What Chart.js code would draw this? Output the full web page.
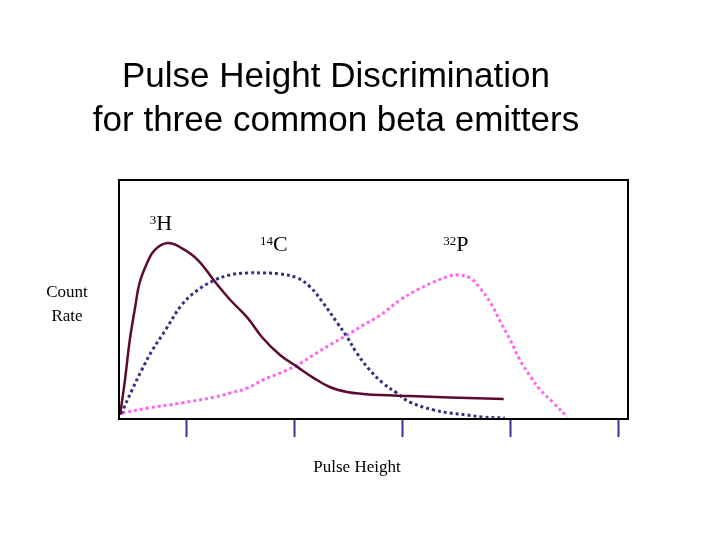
<!DOCTYPE html>
<html>
<head>
<meta charset="utf-8">
<script src="https://cdn.jsdelivr.net/npm/chart.js@4.4.1/dist/chart.umd.min.js"></script>
<style>
  html, body { margin: 0; padding: 0; background: #fff; }
  #wrap { width: 720px; height: 540px; }
</style>
</head>
<body>
<div id="wrap"><canvas id="pulseChart" width="720" height="540"></canvas></div>
<script>
// pulse height in tick units (ticks at 1..5), count rate 0..100
const tickValues = [1, 2, 3, 4, 5];

const h3X = [0.39, 0.435, 0.48, 0.53, 0.57, 0.64, 0.71, 0.83, 0.96, 1.11, 1.27, 1.41, 1.57, 1.71,
             1.87, 2.03, 2.18, 2.33, 2.49, 2.64, 2.80, 3.07, 3.44, 3.94];
const h3Y = [1.7, 16.3, 33.1, 46.9, 56.9, 65.3, 70.7, 73.6, 71.5, 66.5, 57.3, 49.8, 42.3, 33.9,
             26.8, 21.8, 17.2, 13.4, 11.3, 10.5, 10.0, 9.6, 9.0, 8.4];

const c14X = [0.40, 0.50, 0.59, 0.69, 0.81, 0.96, 1.11, 1.27, 1.41, 1.57, 1.71, 1.87, 2.03, 2.15,
              2.27, 2.40, 2.49, 2.58, 2.70, 2.82, 2.95, 3.07, 3.29, 3.44, 3.60, 3.75, 3.95];
const c14Y = [2.1, 12.1, 20.5, 28.9, 37.2, 47.7, 54.0, 58.2, 60.3, 61.1, 61.1, 60.7, 59.0, 55.2,
              48.5, 40.2, 34.3, 27.6, 20.5, 15.1, 10.9, 7.1, 3.8, 2.5, 1.7, 0.8, 0.4];

const p32X = [0.41, 0.65, 0.96, 1.27, 1.41, 1.57, 1.71, 1.87, 2.03, 2.18, 2.33, 2.49, 2.64, 2.80,
              2.98, 3.14, 3.29, 3.44, 3.52, 3.63, 3.72, 3.82, 3.91, 4.00, 4.09, 4.19, 4.28, 4.40, 4.53];
const p32Y = [2.5, 4.6, 6.7, 9.2, 10.9, 13.0, 16.3, 19.2, 22.6, 26.8, 31.0, 35.1, 39.3, 43.5,
              49.8, 54.0, 57.3, 59.8, 60.3, 59.0, 54.8, 48.5, 40.6, 33.1, 24.7, 17.6, 12.1, 6.7, 0.8];

// isotope labels: [mass number, symbol, x, y]
const isoLabels = [
  ['3', 'H', 0.665, 79],
  ['14', 'C', 1.685, 70.5],
  ['32', 'P', 3.38, 70.5]
];

const titleLines = ['Pulse Height Discrimination', 'for three common beta emitters'];
const yTitle = ['Count', 'Rate'];
const xTitle = 'Pulse Height';

function pts(xs, ys) {
  return xs.map((x, i) => ({ x: x, y: ys[i] }));
}

const textPlugin = {
  id: 'texts',
  afterDatasetsDraw(chart) {
    const ctx = chart.ctx;
    const a = chart.chartArea;
    const xs = chart.scales.x, ys = chart.scales.y;
    ctx.save();
    // plot frame
    ctx.strokeStyle = '#000';
    ctx.lineWidth = 2;
    ctx.strokeRect(a.left, a.top, a.right - a.left, a.bottom - a.top);

    ctx.fillStyle = '#000';
    ctx.textAlign = 'center';
    ctx.textBaseline = 'alphabetic';
    ctx.font = '35px "Liberation Sans", Arial, sans-serif';
    ctx.fillText(titleLines[0], 336, 87);
    ctx.fillText(titleLines[1], 336, 131);

    ctx.font = '17px "Liberation Serif", "Times New Roman", serif';
    ctx.fillText(yTitle[0], 67, 297);
    ctx.fillText(yTitle[1], 67, 321);
    ctx.fillText(xTitle, 357, 472);

    ctx.textAlign = 'left';
    isoLabels.forEach(l => {
      const px = xs.getPixelForValue(l[2]);
      const py = ys.getPixelForValue(l[3]);
      ctx.font = '13px "Liberation Serif", "Times New Roman", serif';
      const w = ctx.measureText(l[0]).width;
      ctx.fillText(l[0], px, py - 6);
      ctx.font = '22px "Liberation Serif", "Times New Roman", serif';
      ctx.fillText(l[1], px + w, py);
    });
    ctx.restore();
  }
};

new Chart(document.getElementById('pulseChart'), {
  type: 'line',
  data: {
    datasets: [
      {
        label: '3H',
        data: pts(h3X, h3Y),
        borderColor: '#5c0a32',
        borderWidth: 2.5,
        pointRadius: 0,
        tension: 0.4,
        fill: false
      },
      {
        label: '14C',
        data: pts(c14X, c14Y),
        borderColor: '#333380',
        borderWidth: 3,
        borderDash: [3, 3],
        borderCapStyle: 'butt',
        pointRadius: 0,
        tension: 0.4,
        fill: false
      },
      {
        label: '32P',
        data: pts(p32X, p32Y),
        borderColor: '#ff66ee',
        borderWidth: 3,
        borderDash: [3, 3],
        borderCapStyle: 'butt',
        pointRadius: 0,
        tension: 0.4,
        fill: false
      }
    ]
  },
  options: {
    responsive: false,
    animation: false,
    layout: { padding: { left: 119, right: 92, top: 180, bottom: 103 } },
    plugins: {
      legend: { display: false },
      title: { display: false },
      tooltip: { enabled: false }
    },
    scales: {
      x: {
        type: 'linear',
        min: 0.38,
        max: 5.09,
        afterBuildTicks(scale) {
          scale.ticks = tickValues.map(v => ({ value: v }));
        },
        afterFit(scale) { scale.height = 18; },
        border: { display: false },
        grid: {
          drawOnChartArea: false,
          drawTicks: true,
          tickLength: 18,
          tickColor: '#333399',
          tickWidth: 2
        },
        ticks: { display: false }
      },
      y: {
        display: false,
        min: 0,
        max: 100
      }
    }
  },
  plugins: [textPlugin]
});
</script>
</body>
</html>
